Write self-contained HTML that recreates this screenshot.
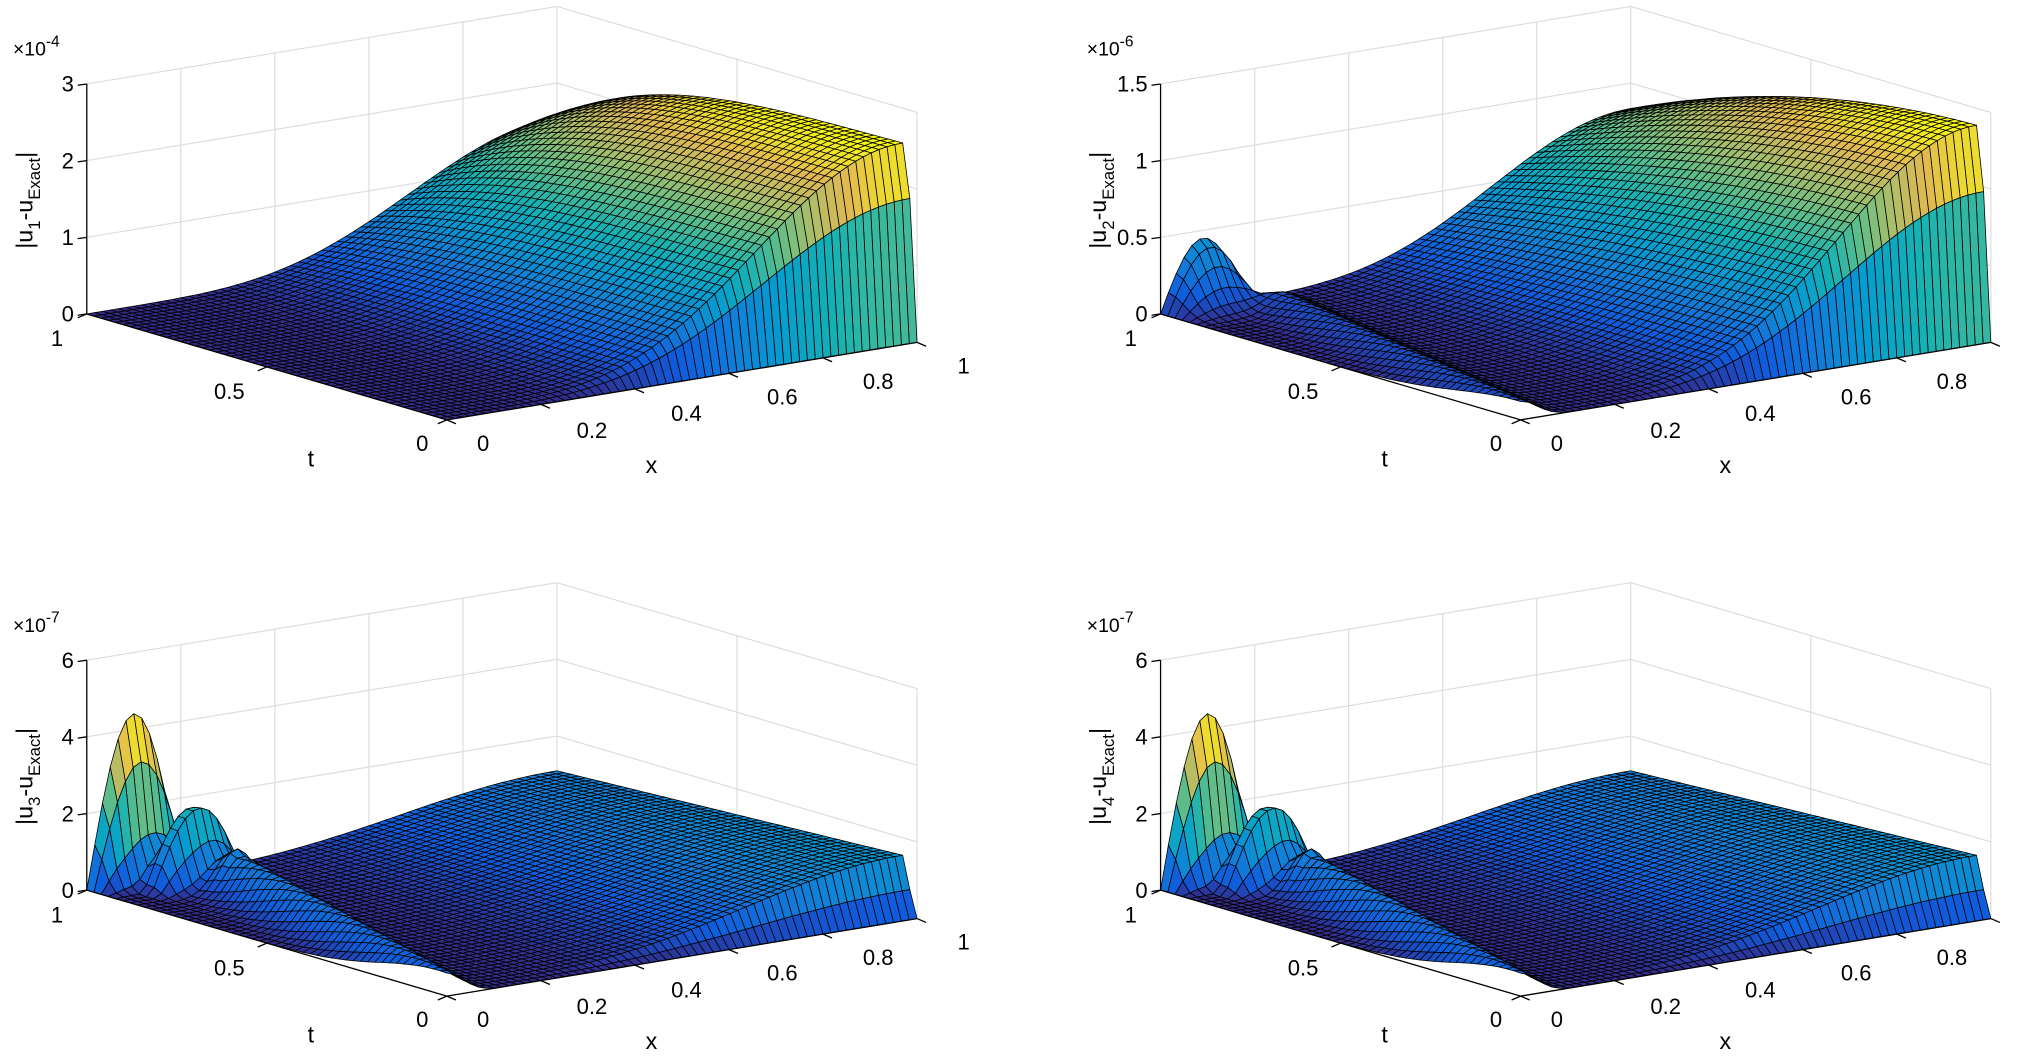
<!DOCTYPE html>
<html><head><meta charset="utf-8">
<style>html,body{margin:0;padding:0;background:#fff;overflow:hidden}svg{display:block}
text{font-family:"Liberation Sans",Arial,sans-serif;fill:#000}</style></head>
<body>
<svg id="s" xmlns="http://www.w3.org/2000/svg" width="2031" height="1062" viewBox="0 0 1568 822" preserveAspectRatio="none"></svg>
<script>
const S=document.getElementById('s');let out='';
const stops=[[53,42,135],[15,92,221],[18,125,216],[7,156,207],[21,177,180],[89,189,140],[165,190,107],[225,185,82],[249,251,14]];
function par(v){v=Math.max(0,Math.min(1,v));const f=v*8,i=Math.min(7,Math.floor(f)),r=f-i,a=stops[i],b=stops[i+1];
return 'rgb('+a.map((c,k)=>Math.round(c+(b[k]-c)*r)).join(',')+')';}
const NX=60,NT=50,dt=1/NT;
function sp(x,p){return Math.pow(Math.sin(Math.PI*x/2),p);}
function B(x,w){return (x>=0&&x<=w)?Math.sin(Math.PI*x/w):0;}
function f1(x,j){const t=j*dt;if(j==0)return 0;const M=j==1?1.85:(2.55-0.1*t-0.9*Math.pow(t,4));return M*sp(x,4.5);}
function f2(x,j){const t=j*dt;let m=j==0?0:(j==1?0.97:1.39*(1-0.4*t*t));let v=m*sp(x,5);
v+=0.45*B(x,0.18)*Math.exp(-Math.pow((1-t)/0.06,2));
v+=0.12*Math.exp(-Math.pow((x-0.2*t)/0.05,2))*(t<0.9?1:Math.exp(-Math.pow((t-0.9)/0.05,2)));return v;}
function f3(x,j){const t=j*dt;let m=j==0?0:(j==1?0.7:1.56*(1-0.3*t));let v=m*sp(x,4);
v+=4.4*B(x,0.2)*Math.exp(-Math.pow((1-t)/0.035,2));
v+=2.2*B(x-0.06,0.2)*Math.exp(-Math.pow((0.91-t)/0.035,2));
v+=1.2*Math.exp(-Math.pow((x-0.22*t)/0.05,2))*(t<0.82?(0.5+0.5*t):Math.exp(-Math.pow((t-0.82)/0.05,2)));return v;}
function panel(ox,oy,zmax,fn,ticks,exp,idx){
 const P=(x,t,z)=>[ox+345+363*x-278*t, oy+325-60*x-82*t-178*z/zmax];
 const L=(a,b,st,w)=>{out+=`<line x1="${a[0].toFixed(1)}" y1="${a[1].toFixed(1)}" x2="${b[0].toFixed(1)}" y2="${b[1].toFixed(1)}" stroke="${st}" stroke-width="${w}"/>`;};
 const g='#dcdcdc';
 ticks.forEach(z=>{L(P(0,1,z),P(1,1,z),g,0.9);L(P(1,1,z),P(1,0,z),g,0.9);});
 [0.2,0.4,0.6,0.8,1].forEach(x=>{L(P(x,1,0),P(x,1,zmax),g,0.9);L(P(x,0,0),P(x,1,0),g,0.9);});
 [0,0.5].forEach(t=>{L(P(1,t,0),P(1,t,zmax),g,0.9);L(P(0,t,0),P(1,t,0),g,0.9);});
 L(P(0,1,0),P(1,1,0),g,0.9);
 const Z=[];let mx=0;
 for(let i=0;i<=NX;i++){Z[i]=[];for(let j=0;j<=NT;j++){const v=fn(i/NX,j);Z[i][j]=v;if(v>mx)mx=v;}}
 const cells=[];
 for(let i=0;i<NX;i++)for(let j=0;j<NT;j++){const x=(i+.5)/NX,t=(j+.5)/NT;cells.push([325-60*x-82*t,i,j]);}
 cells.sort((a,b)=>a[0]-b[0]);
 cells.forEach(c=>{const i=c[1],j=c[2];
  const pts=[[i,j],[i+1,j],[i+1,j+1],[i,j+1]].map(q=>P(q[0]/NX,q[1]/NT,Z[q[0]][q[1]]));
  const av=Math.max(Z[i][j],Z[i+1][j],Z[i+1][j+1],Z[i][j+1])*0.6+(Z[i][j]+Z[i+1][j]+Z[i+1][j+1]+Z[i][j+1])/10;
  out+=`<polygon points="${pts.map(p=>p[0].toFixed(1)+','+p[1].toFixed(1)).join(' ')}" fill="${par(av/mx)}" stroke="#000" stroke-width="0.6" stroke-linejoin="round"/>`;});
 L(P(0,1,0),P(0,1,zmax),'#000',1);L(P(0,1,0),P(0,0,0),'#000',1);L(P(0,0,0),P(1,0,0),'#000',1);
 ticks.forEach(z=>{const a=P(0,1,z);L(a,[a[0]-7,a[1]+1],'#000',1);
  out+=`<text x="${a[0]-10}" y="${a[1]+6}" font-size="17" text-anchor="end">${z}</text>`;});
 [[1,'1'],[0.5,'0.5'],[0,'0']].forEach(q=>{const a=P(0,q[0],0);L(a,[a[0]-7,a[1]+3],'#000',1);});
 out+=`<text x="${ox+44}" y="${oy+268}" font-size="17" text-anchor="middle">1</text>`;
 out+=`<text x="${ox+177}" y="${oy+309}" font-size="17" text-anchor="middle">0.5</text>`;
 out+=`<text x="${ox+326}" y="${oy+349}" font-size="17" text-anchor="middle">0</text>`;
 [[0,373,349],[0.2,457,339],[0.4,530,326],[0.6,604,313],[0.8,678,301],[1,744,289]].forEach(q=>{
  const a=P(q[0],0,0);L(a,[a[0]+7,a[1]+3],'#000',1);
  out+=`<text x="${ox+q[1]}" y="${oy+q[2]}" font-size="17" text-anchor="middle">${q[0]}</text>`;});
 out+=`<text x="${ox+240}" y="${oy+361}" font-size="18" text-anchor="middle">t</text>`;
 out+=`<text x="${ox+503}" y="${oy+366}" font-size="18" text-anchor="middle">x</text>`;
 out+=`<text x="${ox+10}" y="${oy+43}" font-size="15">×10<tspan dy="-7" font-size="12">${exp}</tspan></text>`;
 out+=`<text transform="translate(${ox+25},${oy+155}) rotate(-90)" font-size="18" text-anchor="middle">|u<tspan dy="6" font-size="13">${idx}</tspan><tspan dy="-6">-u</tspan><tspan dy="6" font-size="13">Exact</tspan><tspan dy="-6">|</tspan></text>`;
}
panel(0,0,3,f1,[0,1,2,3],'-4',1);
panel(829,0,1.5,f2,[0,0.5,1,1.5],'-6',2);
panel(0,446,6,f3,[0,2,4,6],'-7',3);
panel(829,446,6,f3,[0,2,4,6],'-7',4);
S.innerHTML=out;
</script>
</body></html>
